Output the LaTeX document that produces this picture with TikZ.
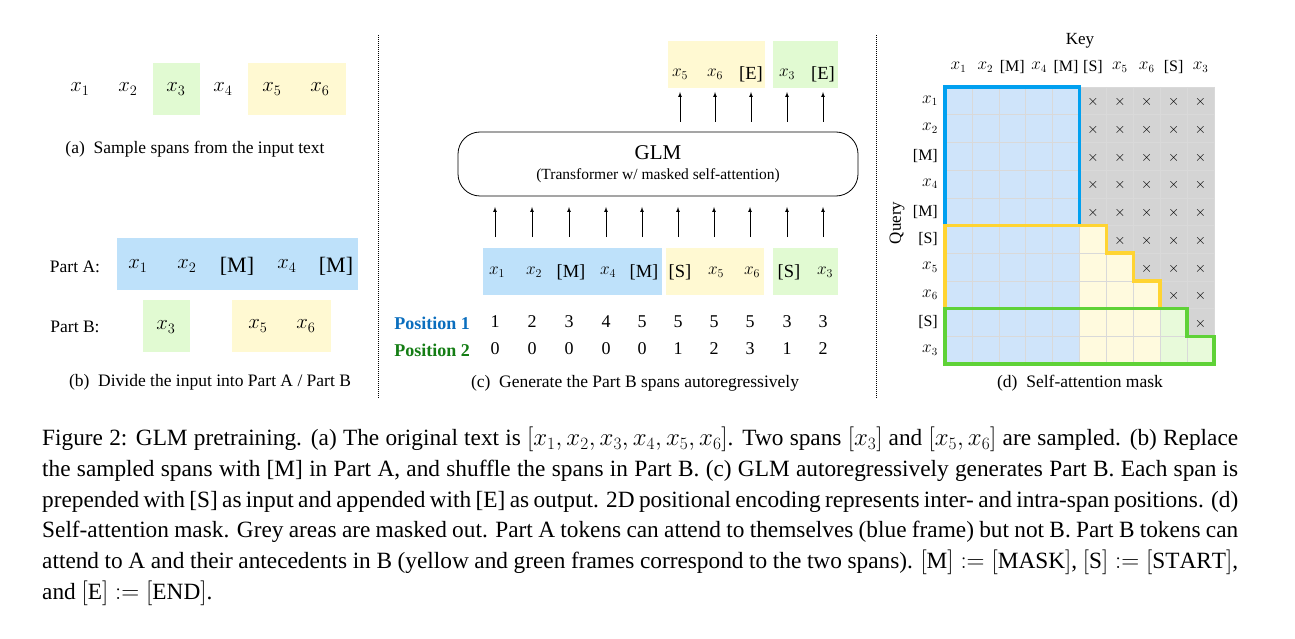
\documentclass[tikz,border=0pt]{standalone}
\usepackage{fontspec}
\setmainfont{Liberation Serif}
\begin{document}
\begin{tikzpicture}[x=1pt,y=-1pt,
  tok/.style={font=\fontsize{22}{22}\selectfont, inner sep=0pt, anchor=center},
  sub/.style={font=\fontsize{17.5}{17.5}\selectfont, inner sep=0pt},
  num/.style={font=\fontsize{18}{18}\selectfont, inner sep=0pt},
  arr/.style={-latex, line width=0.7pt},
  sep/.style={densely dotted, line width=1pt}]
\definecolor{bA}{RGB}{190,225,250}
\definecolor{yB}{RGB}{255,249,210}
\definecolor{gB}{RGB}{225,250,210}
\definecolor{mB}{RGB}{207,228,250}
\definecolor{mY}{RGB}{255,250,222}
\definecolor{mG}{RGB}{232,250,218}
\definecolor{mGr}{RGB}{212,212,212}
\definecolor{fB}{RGB}{0,160,240}
\definecolor{fY}{RGB}{255,212,50}
\definecolor{fG}{RGB}{95,210,55}
\definecolor{p1}{RGB}{10,110,190}
\definecolor{p2}{RGB}{20,125,20}
\useasboundingbox (0,0) rectangle (1295,639);
\fill[white] (0,0) rectangle (1295,639);
% separators
\draw[sep] (378,35) -- (378,398);
\draw[sep] (876,35) -- (876,398);
% panel a
\fill[gB] (153,63) rectangle (200,115);
\fill[yB] (248,63) rectangle (346,115);
\node[tok] (a1) at (80,89) {$x_1$};
\node[tok] (a2) at (128,89) {$x_2$};
\node[tok] (a3) at (176,89) {$x_3$};
\node[tok] (a4) at (223,89) {$x_4$};
\node[tok] (a5) at (272,89) {$x_5$};
\node[tok] (a6) at (320,89) {$x_6$};
\node[sub] (capa) at (195,149) {(a)\ \ Sample spans from the input text};
% panel b
\fill[bA] (117,238) rectangle (358,290);
\fill[gB] (143,300) rectangle (190,352);
\fill[yB] (232,300) rectangle (331,352);
\node[sub] (pa) at (75,267) {Part A:};
\node[sub] (pb) at (75,327) {Part B:};
\node[tok] (b1) at (138,266) {$x_1$};
\node[tok] (b2) at (187,266) {$x_2$};
\node[tok] (b3) at (237,266) {[M]};
\node[tok] (b4) at (287,266) {$x_4$};
\node[tok] (b5) at (336,266) {[M]};
\node[tok] (b6) at (166,327) {$x_3$};
\node[tok] (b7) at (258,326) {$x_5$};
\node[tok] (b8) at (306,326) {$x_6$};
\node[sub] (capb) at (210,382) {(b)\ \ Divide the input into Part A / Part B};
% panel c
\fill[yB] (668,41) rectangle (765,88);
\fill[gB] (773,41) rectangle (838,88);
\fill[bA] (483,248) rectangle (662,295);
\fill[yB] (666,248) rectangle (764,295);
\fill[gB] (773,248) rectangle (838,295);
\node[draw, rounded corners=22pt, line width=0.8pt, minimum width=400pt, minimum height=64pt] (glm) at (658,164) {};
\node[font=\fontsize{21}{21}\selectfont] (glmt) at (658,153) {GLM};
\node[font=\fontsize{15.5}{15.5}\selectfont] (glms) at (658,176) {(Transformer w/ masked self-attention)};
\foreach \n/\x/\t in {o1/680/$x_5$, o2/715/$x_6$, o3/751/[E], o4/787/$x_3$, o5/823/[E]} {
  \node[tok,font=\fontsize{18.5}{18.5}\selectfont] (\n) at (\x,74) {\t};
  \coordinate (\n s) at (\x,122);
  \draw[arr] (\n s) -- ++(0,-30);
}
\foreach \n/\x/\t/\pa/\pb in {i1/497/$x_1$/1/0, i2/534/$x_2$/2/0, i3/571/[M]/3/0, i4/608/$x_4$/4/0, i5/644/[M]/5/0, i6/680/[S]/5/1, i7/716/$x_5$/5/2, i8/752/$x_6$/5/3, i9/789/[S]/3/1, i10/825/$x_3$/3/2} {
  \node[tok,font=\fontsize{18.5}{18.5}\selectfont] (\n) at (\x,272) {\t};
  \coordinate (\n s) at (\x-2,237);
  \draw[arr] (\n s) -- ++(0,-30);
  \node[num] (\n p) at (\x-2,322) {\pa};
  \node[num] (\n q) at (\x-2,349) {\pb};
}
\node[sub, font=\bfseries\fontsize{18}{18}\selectfont, text=p1] (pos1) at (432,323) {Position 1};
\node[sub, font=\bfseries\fontsize{18}{18}\selectfont, text=p2] (pos2) at (432,350) {Position 2};
\node[sub] (capc) at (635,383) {(c)\ \ Generate the Part B spans autoregressively};
% panel d
\def\cw{26.9}\def\ch{27.7}\def\gx{945}\def\gy{87}
\foreach \r in {0,...,9} {
  \foreach \c in {0,...,9} {
    \pgfmathtruncatemacro{\lim}{\r<5 ? 4 : \r}
    \pgfmathtruncatemacro{\kind}{\c<5 ? 1 : (\c>\lim ? 0 : (\c<8 ? 2 : 3))}
    \ifcase\kind
      \fill[mGr] (\gx+\c*\cw,\gy+\r*\ch) rectangle ++(\cw,\ch);
      \node[font=\fontsize{15}{15}\selectfont, inner sep=0pt] at (\gx+\c*\cw+0.5*\cw,\gy+\r*\ch+0.55*\ch) {$\times$};
    \or \fill[mB] (\gx+\c*\cw,\gy+\r*\ch) rectangle ++(\cw,\ch);
    \or \fill[mY] (\gx+\c*\cw,\gy+\r*\ch) rectangle ++(\cw,\ch);
    \or \fill[mG] (\gx+\c*\cw,\gy+\r*\ch) rectangle ++(\cw,\ch);
    \fi
  }
}
\foreach \i in {0,...,10} {
  \draw[black!15, line width=0.5pt] (\gx+\i*\cw,\gy) -- (\gx+\i*\cw,\gy+10*\ch);
  \draw[black!15, line width=0.5pt] (\gx,\gy+\i*\ch) -- (\gx+10*\cw,\gy+\i*\ch);
}
\draw[fB, line width=3.5pt] (\gx,\gy) rectangle (\gx+5*\cw,\gy+5*\ch);
\draw[fY, line width=3.5pt] (\gx,\gy+5*\ch) -- (\gx+6*\cw,\gy+5*\ch) -- (\gx+6*\cw,\gy+6*\ch) -- (\gx+7*\cw,\gy+6*\ch) -- (\gx+7*\cw,\gy+7*\ch) -- (\gx+8*\cw,\gy+7*\ch) -- (\gx+8*\cw,\gy+8*\ch) -- (\gx,\gy+8*\ch) -- cycle;
\draw[fG, line width=3.5pt] (\gx,\gy+8*\ch) -- (\gx+9*\cw,\gy+8*\ch) -- (\gx+9*\cw,\gy+9*\ch) -- (\gx+10*\cw,\gy+9*\ch) -- (\gx+10*\cw,\gy+10*\ch) -- (\gx,\gy+10*\ch) -- cycle;
\foreach \t [count=\i from 0] in {$x_1$,$x_2$,[M],$x_4$,[M],[S],$x_5$,$x_6$,[S],$x_3$} {
  \node[font=\fontsize{16}{16}\selectfont, inner sep=0pt] (k\i) at (\gx+\i*\cw+0.5*\cw,67) {\t};
  \node[font=\fontsize{16}{16}\selectfont, inner sep=0pt, anchor=east] (q\i) at (938,\gy+\i*\ch+0.5*\ch) {\t};
}
\node[font=\fontsize{17}{17}\selectfont] (key) at (1080,41) {Key};
\node[font=\fontsize{17}{17}\selectfont, rotate=90] (query) at (897,223) {Query};
\node[sub] (capd) at (1080,383) {(d)\ \ Self-attention mask};
% caption
\node[anchor=north west, inner sep=0pt, text width=1196pt, align=justify, font=\fontsize{23.3}{30.7}\selectfont] (fig) at (42,427)
{Figure 2: GLM pretraining. (a) The original text is $[x_1, x_2, x_3, x_4, x_5, x_6]$. Two spans $[x_3]$ and $[x_5, x_6]$ are sampled. (b) Replace the sampled spans with [M] in Part A, and shuffle the spans in Part B. (c) GLM autoregressively generates Part B. Each span is prepended with [S] as input and appended with [E] as output. 2D positional encoding represents inter- and intra-span positions. (d) Self-attention mask. Grey areas are masked out. Part A tokens can attend to themselves (blue frame) but not B. Part B tokens can attend to A and their antecedents in B (yellow and green frames correspond to the two spans). $\mathrm{[M]} := \mathrm{[MASK]}$, $\mathrm{[S]} := \mathrm{[START]}$, and $\mathrm{[E]} := \mathrm{[END]}$.};
\end{tikzpicture}
\end{document}
